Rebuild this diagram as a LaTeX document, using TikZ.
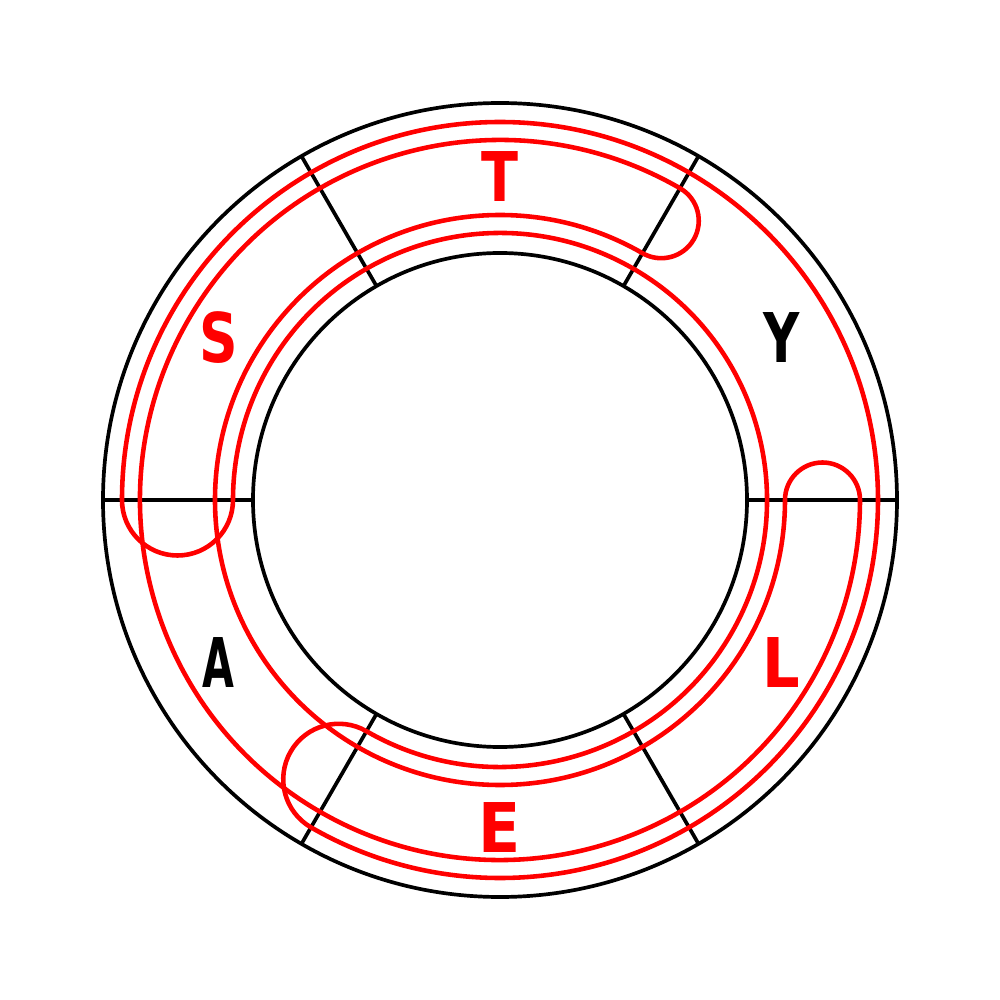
\documentclass[tikz,border=0pt]{standalone}
\usepackage{fontspec}
\setmainfont{DejaVu Sans}
\begin{document}
\begin{tikzpicture}[x=0.01cm,y=0.01cm,
  blk/.style={line width=1.05pt,black},
  redl/.style={line width=1.3pt,red,line join=round},
  lettr/.style={inner sep=0pt,font=\fontsize{19.5pt}{24pt}\selectfont\bfseries}]
\useasboundingbox (-500,-500) rectangle (500,500);
% ring
\draw[blk] (0,0) circle[radius=397];
\draw[blk] (0,0) circle[radius=247];
\foreach \a in {0,60,...,300} \draw[blk] (\a:247) -- (\a:397);
% loop 1 (outer/inner tracks)
\draw[redl] (180:378) arc[start angle=180,end angle=-120,radius=378]
  arc[start angle=-120,end angle=-300,radius=55.5]
  arc[start angle=-120,end angle=180,radius=267]
  arc[start angle=0,end angle=-180,radius=55.5] -- cycle;
% loop 2 (middle tracks)
\draw[redl] (60:360) arc[start angle=60,end angle=360,radius=360]
  arc[start angle=0,end angle=180,radius=37.5]
  arc[start angle=360,end angle=60,radius=285]
  arc[start angle=240,end angle=420,radius=37.5] -- cycle;
% letters
\node[lettr,red] (T) at (0,323) {\scalebox{0.79}[1]{T}};
\node[lettr] (Y) at (30:325) {\scalebox{0.73}[1]{Y}};
\node[lettr,red] (L) at (-30:325) {\scalebox{0.86}[1]{L}};
\node[lettr,red] (E) at (0,-327) {\scalebox{0.9}[1]{E}};
\node[lettr] (A) at (210:325) {\scalebox{0.6}[1]{A}};
\node[lettr,red] (S) at (150:325) {\scalebox{0.78}[1]{S}};
\end{tikzpicture}
\end{document}
